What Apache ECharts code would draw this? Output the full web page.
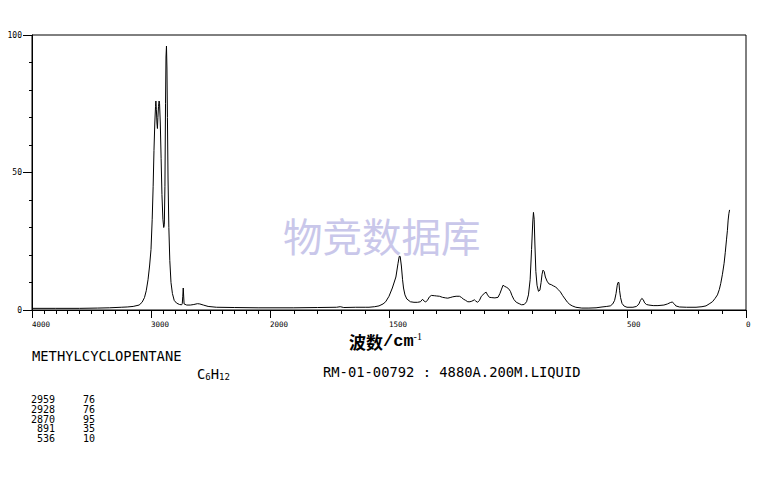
<!DOCTYPE html>
<html>
<head>
<meta charset="utf-8">
<script src="https://cdn.jsdelivr.net/npm/echarts@6/dist/echarts.min.js"></script>
<style>
html,body{margin:0;padding:0;background:#fff;}
#chart{width:761px;height:477px;}
</style>
</head>
<body>
<div id="chart"></div>
<script>
// Raman shift (cm-1)
const wavenumbers = [
4000,3800,3600,3450,3350,3250,3200,3150,3100,3075,3055,3040,3025,3012,3000,2990,2982,2975,2968,2962,2959,2955,2950,2946,2942,2937,2932,2928,2922,2915,2908,2900,2893,2888,2883,2878,2874,2870,2866,2862,2857,2850,2842,2832,2820,2805,2785,2760,2742,2737,2733,2729,2722,2700,2670,2640,2610,2590,2560,2520,2450,2300,2100,
2000,1900,1800,1720,1705,1690,1640,1600,1584,1560,1542,1525,1514,1500,1486,1471,1462,1457,1453,1448,1443,1439,1433,1425,1410,1395,1380,1368,1359,1352,1346,1338,1330,1322,1310,1300,1288,1275,1262,1253,1240,1232,1218,1204,1196,1188,1178,1169,1160,1152,1141,1136,1128,1120,1112,1100,1092,1086,1078,1068,1055,1042,1034,1027,1021,1014,1007,998,990,983,975,965,953,943,932,922,914,907,901,896,893,890,887,883,878,872,866,861,857,853,848,843,836,828,818,808,800,790,780,770,760,750,740,730,715,690,660,630,605,585,570,560,552,546,541,538,534,531,527,521,512,500,475,460,450,444,438,432,426,418,408,390,370,345,330,318,310,302,295,280,250,210,185,168,155,141,130,120,112,106,99,92,87,82,78,75,72,69
];
const intensities = [
0.6,0.6,0.6,0.7,0.8,1.0,1.1,1.3,1.8,2.8,4.5,7,11,16,22,33,45,58,68,74,76,73,68,66,70,74,76,75,68,55,42,33,30,31,45,75,92,96,88,70,48,30,18,10,6,3.5,2.5,2.0,1.9,2.4,5,8,2.2,1.8,1.8,2.0,2.3,2.2,1.8,1.3,1.0,0.9,0.8,
0.8,0.8,0.9,1.0,1.2,0.9,1.0,1.0,1.0,1.2,1.5,2.2,3.0,5,8,12,17,19.5,19.5,16,11,8,5.5,4,3.0,2.8,2.8,3.0,3.9,3.2,2.9,3.6,4.8,5.3,5.2,5.1,5.0,4.6,4.4,4.3,4.6,4.8,5.0,5.0,4.6,4.0,3.5,3.0,3.0,3.2,3.7,3.3,2.8,3.5,5.0,6.0,6.5,5.5,4.6,4.5,4.4,4.6,6.0,7.6,9.0,8.6,8.3,7.8,6.8,5.2,3.8,2.8,2.3,1.9,2.0,3.0,5.5,11,22,32,35.5,33,24,14,9,6.8,7.2,10,13,14.5,14,12,10.5,9.5,9.2,8.7,8.4,7.5,6.6,5.2,4,2.8,2.0,1.5,1.0,0.7,0.7,0.8,1.1,1.3,1.5,2.2,3.5,6,9,10,10,7,4.5,2.4,1.4,1.0,1.0,1.3,2.2,3.4,4.2,3.8,2.6,2.0,1.8,1.6,1.6,1.8,2.2,2.7,2.9,2.3,1.5,1.1,1.0,1.0,1.2,1.5,2.2,3.0,4.2,5.5,7.5,9.7,13,17,21,25.5,29,32.7,35,36.4
];
const majorTickLabels = [4000, 3000, 2000, 1500, 500, 0];
const yLabels = [0, 50, 100];
const peakShifts = ['2959', '2928', '2870', '891', '536'];
const peakHeights = ['76', '76', '95', '35', '10'];

// piecewise Raman axis: 4000-2000 compressed by 2
function toT(w){ return w >= 2000 ? (4000 - w) / 2 : 1000 + (2000 - w); }
function fromT(t){ return t <= 1000 ? 4000 - 2 * t : 2000 - (t - 1000); }

const minorWn = [];
for (let w = 4000; w >= 0; w -= 100) minorWn.push(w);

const data = wavenumbers.map((w, i) => [toT(w), intensities[i]]);
const mono = 'DejaVu Sans Mono';

const chart = echarts.init(document.getElementById('chart'), null, {renderer: 'svg'});
chart.setOption({
  animation: false,
  backgroundColor: '#fff',
  grid: {left: 32, right: 15, top: 35, bottom: 167, show: true, borderColor: '#000', borderWidth: 1},
  xAxis: [
    {
      type: 'value', min: 0, max: 3000, position: 'bottom',
      axisLine: {show: true, lineStyle: {color: '#000', width: 1}},
      axisTick: {show: true, customValues: majorTickLabels.map(toT), length: 8, lineStyle: {color: '#000'}},
      axisLabel: {customValues: majorTickLabels.map(toT), formatter: v => String(Math.round(fromT(v))),
        fontFamily: mono, fontSize: 7.5, color: '#000', margin: 10, align: 'left'},
      splitLine: {show: false}
    },
    {
      type: 'value', min: 0, max: 3000, position: 'bottom', offset: 0,
      axisLine: {show: false},
      axisTick: {show: true, customValues: minorWn.map(toT), length: 4, lineStyle: {color: '#000'}},
      axisLabel: {show: false},
      splitLine: {show: false}
    }
  ],
  yAxis: [
    {
      type: 'value', min: 0, max: 100, interval: 10,
      axisLine: {show: true, lineStyle: {color: '#000'}},
      axisTick: {show: true, length: 3, lineStyle: {color: '#000'}},
      axisLabel: {show: false},
      splitLine: {show: false}
    },
    {
      type: 'value', min: 0, max: 100, position: 'left', offset: 0,
      axisLine: {show: false},
      axisTick: {show: true, customValues: yLabels, length: 9, lineStyle: {color: '#000'}},
      axisLabel: {customValues: yLabels, fontFamily: mono, fontSize: 8, color: '#000', margin: 10},
      splitLine: {show: false}
    }
  ],
  series: [
    {
      type: 'line', xAxisIndex: 0, yAxisIndex: 0, data: data, showSymbol: false, silent: true,
      lineStyle: {color: '#000', width: 1}
    }
  ],
  graphic: [
    {type: 'text', left: 283, top: 215, z: -1, silent: true,
      style: {text: '物竞数据库', font: '39.5px "Noto Sans CJK SC"', fill: '#c9c7ea'}},
    {type: 'text', x: 349, y: 341, style: {
      text: '{c|波数}{m|/cm}{s|-1}', verticalAlign: 'middle', textVerticalAlign: 'middle',
      rich: {
        c: {fontFamily: 'Noto Sans CJK SC', fontSize: 17, fontWeight: 'bold', fill: '#000', lineHeight: 20},
        m: {fontFamily: 'Liberation Mono', fontSize: 17, fontWeight: 'bold', fill: '#000', lineHeight: 20},
        s: {fontFamily: 'Liberation Serif', fontSize: 10, fill: '#000', verticalAlign: 'top', lineHeight: 20, padding: [0,0,8,0]}
      }}},
    {type: 'text', x: 32, y: 356, style: {text: 'METHYLCYCLOPENTANE', font: '13.8px "DejaVu Sans Mono"', fill: '#000', textVerticalAlign: 'middle', verticalAlign: 'middle'}},
    {type: 'text', x: 323, y: 372, style: {text: 'RM-01-00792 : 4880A.200M.LIQUID', font: '13.8px "DejaVu Sans Mono"', fill: '#000', textVerticalAlign: 'middle', verticalAlign: 'middle'}},
    {type: 'text', x: 197, y: 374, style: {
      text: 'C{s|6}H{s|12}', font: '13.8px "DejaVu Sans Mono"', fill: '#000', verticalAlign: 'middle', textVerticalAlign: 'middle',
      rich: {s: {fontFamily: mono, fontSize: 9, fill: '#000', verticalAlign: 'bottom', padding: [4,0,0,0]}}}},
    {type: 'text', x: 55, y: 395, style: {text: peakShifts.join('\n'), font: '10px "DejaVu Sans Mono"', lineHeight: 9.6, fill: '#000', align: 'right', textAlign: 'right'}},
    {type: 'text', x: 83, y: 395, style: {text: peakHeights.join('\n'), font: '10px "DejaVu Sans Mono"', lineHeight: 9.6, fill: '#000', align: 'left', textAlign: 'left'}}
  ]
});
</script>
</body>
</html>
